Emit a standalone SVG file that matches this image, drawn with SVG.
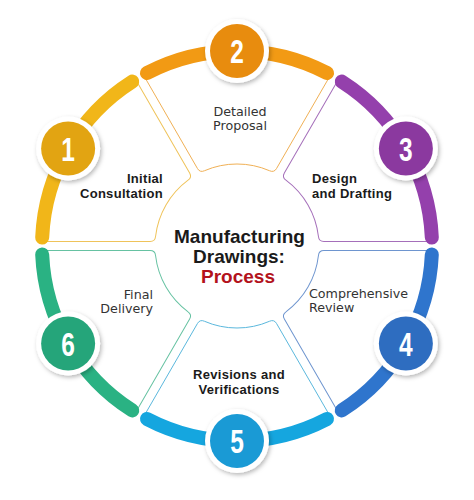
<svg xmlns="http://www.w3.org/2000/svg" xmlns:xlink="http://www.w3.org/1999/xlink" width="474" height="500" viewBox="0 0 474 500">
<style>
.sector{fill:#fff;stroke-width:1;stroke-linejoin:round}
.arc{fill:none;stroke-width:14;stroke-linecap:round}
.ring{fill:#fff;filter:url(#sh)}
.num{font-family:"Liberation Sans",Arial,sans-serif;font-weight:bold;font-size:34px;fill:#fff;text-anchor:middle}
.bl{font-family:"Liberation Sans",Arial,sans-serif;font-weight:bold;font-size:13px;letter-spacing:0.3px;fill:#1a1a1a}
.rl{font-family:"DejaVu Sans",sans-serif;font-size:12.7px;fill:#333}
.title{font-family:"Liberation Sans",Arial,sans-serif;font-weight:bold;font-size:19px;fill:#1a1a1a;text-anchor:middle}
</style>
<defs>
<filter id="sh" x="-30%" y="-30%" width="160%" height="160%">
<feDropShadow dx="1.5" dy="2" stdDeviation="2" flood-color="#000" flood-opacity="0.28"/>
</filter>
<path id="sec" d="M-93.58,-171.08 L-39.55,-77.51 Q-37.05,-73.18 -32.51,-75.28 A82,82 0 0 1 32.51,-75.28 Q37.05,-73.18 39.55,-77.51 L93.58,-171.08 A195,195 0 0 0 -93.58,-171.08 Z"/>
<path id="arcp" d="M-90.03,-172.97 A195,195 0 0 1 90.03,-172.97"/>
</defs>
<rect width="474" height="500" fill="#fff"/>
<g id="sectors" transform="translate(237,246)">
<use xlink:href="#sec" class="sector" stroke="#EFC35A" transform="rotate(-60)"/>
<use xlink:href="#sec" class="sector" stroke="#F0B055"/>
<use xlink:href="#sec" class="sector" stroke="#A56FBA" transform="rotate(60)"/>
<use xlink:href="#sec" class="sector" stroke="#6E95CF" transform="rotate(120)"/>
<use xlink:href="#sec" class="sector" stroke="#5BB8DD" transform="rotate(180)"/>
<use xlink:href="#sec" class="sector" stroke="#66C2A2" transform="rotate(240)"/>
</g>
<g id="connectors" transform="translate(237,246)">
<use xlink:href="#arcp" class="arc" stroke="#F1B619" transform="rotate(-60)"/>
<use xlink:href="#arcp" class="arc" stroke="#F29A14"/>
<use xlink:href="#arcp" class="arc" stroke="#9440AC" transform="rotate(60)"/>
<use xlink:href="#arcp" class="arc" stroke="#2F75CD" transform="rotate(120)"/>
<use xlink:href="#arcp" class="arc" stroke="#15A6DF" transform="rotate(180)"/>
<use xlink:href="#arcp" class="arc" stroke="#2AB283" transform="rotate(240)"/>
</g>
<g id="node1">
<circle class="ring" cx="68.13" cy="148.5" r="32"/>
<circle cx="68.13" cy="148.5" r="27" fill="#E2A412"/>
<text class="num" transform="translate(68.13,160.5) scale(0.72,1)">1</text>
<text class="bl" x="163" y="182.5" text-anchor="end">Initial</text>
<text class="bl" x="163" y="197.5" text-anchor="end">Consultation</text>
</g>
<g id="node2">
<circle class="ring" cx="237" cy="51" r="32"/>
<circle cx="237" cy="51" r="27" fill="#E88C0E"/>
<text class="num" transform="translate(237,63) scale(0.72,1)">2</text>
<text class="rl" x="240" y="116" text-anchor="middle">Detailed</text>
<text class="rl" x="240" y="130" text-anchor="middle">Proposal</text>
</g>
<g id="node3">
<circle class="ring" cx="405.87" cy="148.5" r="32"/>
<circle cx="405.87" cy="148.5" r="27" fill="#8B399F"/>
<text class="num" transform="translate(405.87,160.5) scale(0.72,1)">3</text>
<text class="bl" x="312" y="182.5">Design</text>
<text class="bl" x="312" y="197.5">and Drafting</text>
</g>
<g id="node4">
<circle class="ring" cx="405.87" cy="343.5" r="32"/>
<circle cx="405.87" cy="343.5" r="27" fill="#2E6DC0"/>
<text class="num" transform="translate(405.87,355.5) scale(0.72,1)">4</text>
<text class="rl" x="309" y="298">Comprehensive</text>
<text class="rl" x="309" y="312">Review</text>
</g>
<g id="node5">
<circle class="ring" cx="237" cy="441" r="32"/>
<circle cx="237" cy="441" r="27" fill="#1A9AD5"/>
<text class="num" transform="translate(237,453) scale(0.72,1)">5</text>
<text class="bl" x="239" y="379" text-anchor="middle">Revisions and</text>
<text class="bl" x="239" y="394" text-anchor="middle">Verifications</text>
</g>
<g id="node6">
<circle class="ring" cx="68.13" cy="343.5" r="32"/>
<circle cx="68.13" cy="343.5" r="27" fill="#25A57A"/>
<text class="num" transform="translate(68.13,355.5) scale(0.72,1)">6</text>
<text class="rl" x="153" y="299" text-anchor="end">Final</text>
<text class="rl" x="153" y="313" text-anchor="end">Delivery</text>
</g>
<g id="center">
<text class="title" x="239.5" y="243">Manufacturing</text>
<text class="title" x="239" y="263">Drawings:</text>
<text class="title" x="238" y="283" style="fill:#B3121C">Process</text>
</g>
</svg>
